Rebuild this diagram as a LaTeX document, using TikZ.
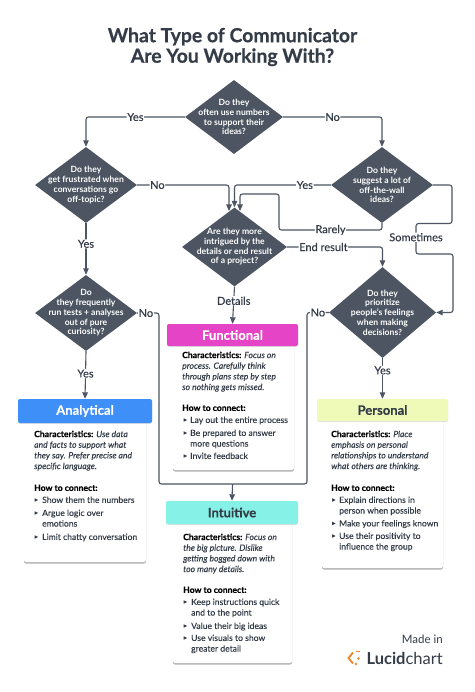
\documentclass[tikz,border=0pt]{standalone}
\usepackage{fontspec}
\setmainfont{Lato}
\usepackage{xcolor}
\usetikzlibrary{arrows.meta,shapes.geometric,shadows}
\definecolor{flowslate}{HTML}{4C5561}
\definecolor{flowink}{HTML}{343C48}
\definecolor{analyticalblue}{HTML}{3F8FF9}
\definecolor{functionalpink}{HTML}{E544C6}
\definecolor{personalyellow}{HTML}{EFFAB9}
\definecolor{intuitiveteal}{HTML}{86F2E7}
\definecolor{lucidorange}{HTML}{E98A2E}
\newcommand{\heavier}[1]{\addfontfeatures{FakeBold=#1}}
\newcommand{\cardkey}[1]{{\color{black}\bfseries\heavier{.35}#1}}
\tikzset{
 flow line/.style={line width=1.1pt,draw=flowslate,rounded corners=2.5pt},
 flow arrow/.style={flow line,-{Triangle[length=6.5pt,width=5.5pt]}},
 flow label/.style={fill=white,inner sep=.6pt,text=flowink,font=\fontsize{11}{12}\selectfont\heavier{.3}},
 ask box/.style={diamond,fill=flowslate,inner sep=0pt},
 ask text/.style={text=white,align=center,font=\bfseries\fontsize{8.6}{9.7}\selectfont},
 card head/.style={rounded corners=2pt,inner sep=0pt,drop shadow={opacity=.25,shadow xshift=0pt,shadow yshift=-.8pt},
   font=\bfseries\fontsize{13}{15}\selectfont\heavier{.3}},
 card body/.style={fill=white,rounded corners=2pt,inner sep=0pt,
   drop shadow={opacity=.6,shadow xshift=0pt,shadow yshift=-1.5pt}},
 card text/.style={anchor=north west,inner sep=0pt,align=left,text=flowink,
   font=\fontsize{8.6}{10.65}\selectfont\heavier{.1}},
 pics/item mark/.style={code={
   \fill[flowink] (-1.3,-1.7)--(2.2,0)--(-1.3,1.7)--cycle;
 }}
}
% one bullet of a card: x of mark, x of text, y of first line, text
\newcommand{\carditem}[4]{%
 \pic at (#1,#3) {item mark};
 \node[card text] at (#2,#3-3.6) {#4};
}
\begin{document}
\begin{tikzpicture}[x=1pt,y=-1pt]
\useasboundingbox[fill=white] (0,0) rectangle (474,692);
\node[text=flowink,align=center,font=\bfseries\fontsize{19.4}{20.5}\selectfont\heavier{.5}] (title) at (232.5,47)
 {What Type of Communicator\\Are You Working With?};
% questions
\node[ask box,minimum width=98pt,minimum height=74pt,
 label={[ask text]center:Do they\\often use numbers\\to support their\\ideas?}] (numbers) at (234,117) {};
\node[ask box,minimum width=102pt,minimum height=76pt,
 label={[ask text]center:Do they\\get frustrated when\\conversations go\\off-topic?}] (frustrated) at (86,185) {};
\node[ask box,minimum width=102pt,minimum height=76pt,
 label={[ask text]center:Do they\\suggest a lot of\\off-the-wall\\ideas?}] (offwall) at (382,185) {};
\node[ask box,minimum width=105pt,minimum height=79pt,
 label={[ask text]center:Are they more\\intrigued by the\\details or end result\\of a project?}] (intrigued) at (234.5,247) {};
\node[ask box,minimum width=102pt,minimum height=76pt,
 label={[ask text]center:Do\\they frequently\\run tests + analyses\\out of pure\\curiosity?}] (tests) at (86,313) {};
\node[ask box,minimum width=107pt,minimum height=91pt,
 label={[ask text]center:Do they\\prioritize\\people's feelings\\when making\\decisions?}] (feelings) at (382.5,312.5) {};
% cards
\node[card body,minimum width=122pt,minimum height=142pt] (analyticalbody) at (85,491) {};
\node[card head,fill=analyticalblue,text=white,minimum width=134pt,minimum height=24pt] (analytical) at (85,411) {Analytical};
\node[card body,minimum width=121pt,minimum height=127pt] (functionalbody) at (233.5,406.5) {};
\node[card head,fill=functionalpink,text=white,minimum width=131pt,minimum height=22pt] (functional) at (232.5,335) {Functional};
\node[card body,minimum width=121pt,minimum height=150pt] (personalbody) at (382.5,493) {};
\node[card head,fill=personalyellow,text=flowink,minimum width=131pt,minimum height=22pt] (personal) at (382.5,410) {Personal};
\node[card body,minimum width=119pt,minimum height=142pt] (intuitivebody) at (232.5,592) {};
\node[card head,fill=intuitiveteal,text=flowink,minimum width=132pt,minimum height=23pt] (intuitive) at (232,512.5) {Intuitive};
% free ends and bends
\coordinate (leftin) at (229,211);
\coordinate (rightin) at (240,211);
\coordinate (meet) at (232.5,484);
% connectors
\draw[flow arrow] (numbers.west)--node[flow label]{Yes}(86,117)--(frustrated.north);
\draw[flow arrow] (numbers.east)--node[flow label]{No}(382,117)--(offwall.north);
\draw[flow arrow] (frustrated.east)--node[flow label,pos=.22]{No}(229,185)--(leftin);
\draw[flow arrow] (offwall.west)--node[flow label,pos=.27]{Yes}(234.5,185)--(intrigued.north);
\draw[flow arrow] (offwall.south)--(382,230)--node[flow label,pos=.5]{Rarely}(279,230)--(279,194)--(240,194)--(rightin);
\draw[flow arrow] (offwall.east)--(452,185)--(452,223.5)--(416,223.5)
 --node[flow label,pos=.45]{Sometimes}(416,254)--(453,254)--(453,312.5)--(feelings.east);
\draw[flow arrow] (intrigued.east)--node[flow label,pos=.38]{End result}(382.5,247)--(feelings.north);
\draw[flow arrow] (intrigued.south)--node[flow label,pos=.38]{Details}(functional.north);
\draw[flow arrow] (frustrated.south)--node[flow label,pos=.4]{Yes}(tests.north);
\draw[flow arrow] (tests.south)--node[flow label,pos=.47]{Yes}(analytical.north);
\draw[flow arrow] (feelings.south)--node[flow label,pos=.3]{Yes}(personal.north);
\draw[flow line] (tests.east)--node[flow label,pos=.4]{No}(159,313)--(159,484)--(meet);
\draw[flow line] (feelings.west)--node[flow label,pos=.5]{No}(307,312.5)--(307,484)--(meet);
\draw[flow arrow] (meet)--(intuitive.north);
% analytical card
\node[card text] (analyticaltext) at (34,430.5) {\cardkey{Characteristics:} \textit{Use data}\\\textit{and facts to support what}\\\textit{they say. Prefer precise and}\\\textit{specific language.}};
\node[card text] (analyticalhow) at (34,484.5) {\cardkey{How to connect:}};
\carditem{36}{42}{500}{Show them the numbers}
\carditem{36}{42}{513}{Argue logic over\\emotions}
\carditem{36}{42}{537}{Limit chatty conversation}
% functional card
\node[card text] (functionaltext) at (182,351.5) {\cardkey{Characteristics:} \textit{Focus on}\\\textit{process. Carefully think}\\\textit{through plans step by step}\\\textit{so nothing gets missed.}};
\node[card text] (functionalhow) at (182,404.5) {\cardkey{How to connect:}};
\carditem{185}{190}{420}{Lay out the entire process}
\carditem{185}{190}{433}{Be prepared to answer\\more questions}
\carditem{185}{190}{456}{Invite feedback}
% personal card
\node[card text] (personaltext) at (331,430.5) {\cardkey{Characteristics:} \textit{Place}\\\textit{emphasis on personal}\\\textit{relationships to understand}\\\textit{what others are thinking.}};
\node[card text] (personalhow) at (331,484.5) {\cardkey{How to connect:}};
\carditem{333.5}{339}{500}{Explain directions in\\person when possible}
\carditem{333.5}{339}{523.5}{Make your feelings known}
\carditem{333.5}{339}{536}{Use their positivity to\\influence the group}
% intuitive card
\node[card text] (intuitivetext) at (183,533.5) {\cardkey{Characteristics:} \textit{Focus on}\\\textit{the big picture. Dislike}\\\textit{getting bogged down with}\\\textit{too many details.}};
\node[card text] (intuitivehow) at (183,586.5) {\cardkey{How to connect:}};
\carditem{185}{191}{602}{Keep instructions quick\\and to the point}
\carditem{185}{191}{626}{Value their big ideas}
\carditem{185}{191}{638}{Use visuals to show\\greater detail}
% made in
\node[anchor=east,inner sep=0pt,text=flowink,font=\fontsize{11.5}{13}\selectfont] (madein) at (443,639) {Made in};
\node[anchor=east,inner sep=0pt,text=flowink,font=\fontsize{16.5}{17}\selectfont] (lucidchart) at (443,658) {\textbf{Lucid}chart};
\draw[lucidorange,line width=1.9pt] (353,652.5)--(348.5,658)--(353,663.5);
\draw[lucidorange,line width=1.9pt] (355.5,651.5)--(360,651.5);
\fill[lucidorange] (358.5,658.5) circle (1.3pt) (356,664) circle (1.3pt);
\end{tikzpicture}
\end{document}
